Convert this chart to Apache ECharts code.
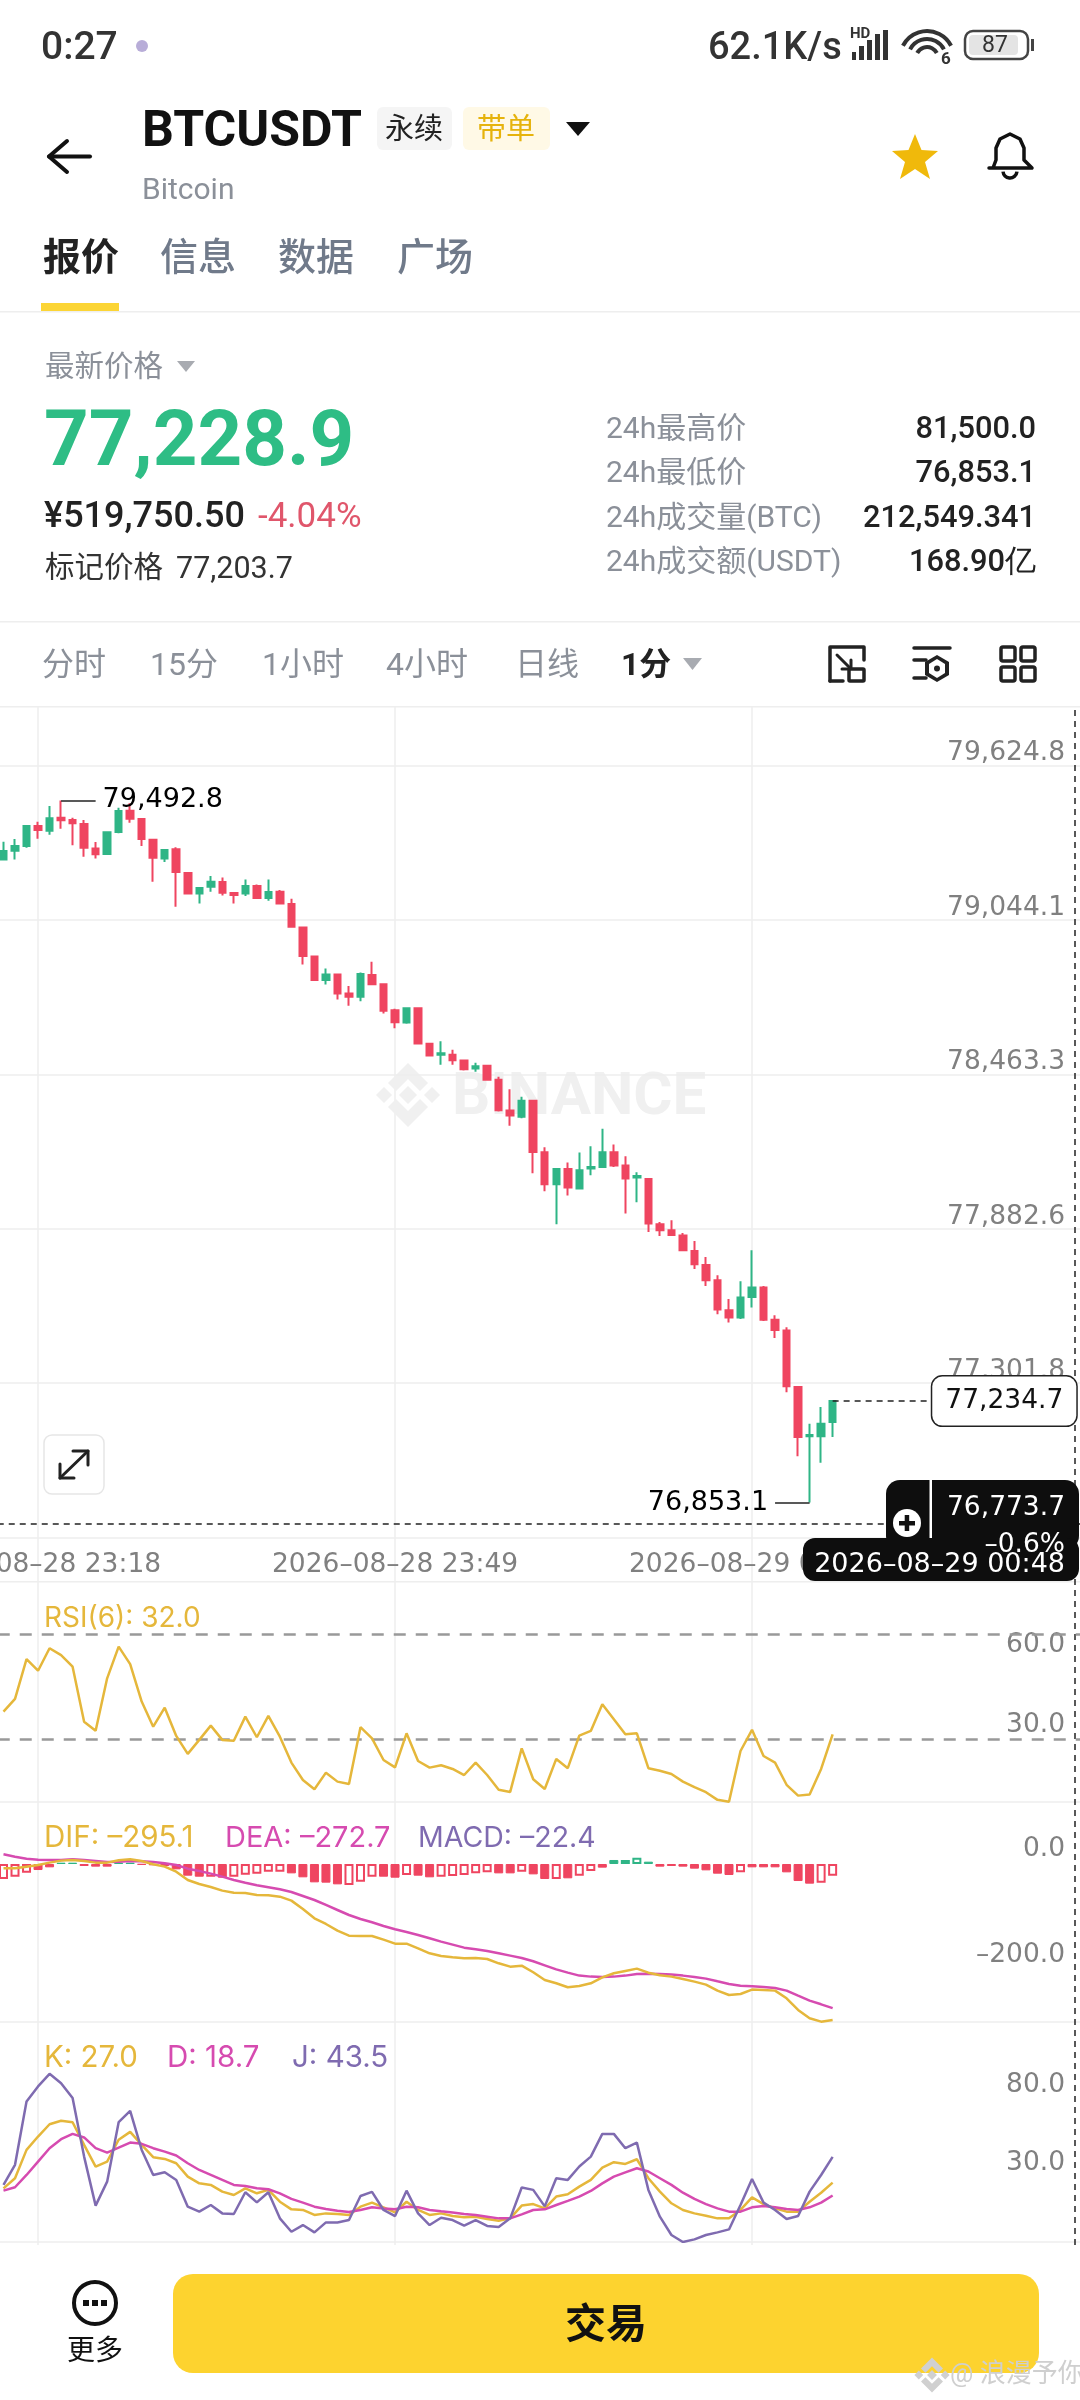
<!DOCTYPE html>
<html><head><meta charset="utf-8">
<style>html,body{margin:0;padding:0;background:#fff}#c{width:1080px;height:2400px}</style>
<script src="https://cdn.jsdelivr.net/npm/echarts@6/dist/echarts.min.js"></script>
</head><body><div id="c"></div>
<script>
// ---------- data ----------
const candles = [ // open, close, low, high
[79271.1,79302.5,79271.1,79337.6],[79303.7,79321.3,79271.1,79347.6],[79321.3,79396.5,79315.0,79396.5],[79396.5,79381.5,79348.9,79412.8],
[79379.0,79425.4,79363.9,79471.7],[79427.9,79417.8,79386.5,79492.8],[79419.1,79406.5,79323.8,79427.9],[79404.0,79315.0,79281.2,79419.1],
[79312.5,79290.0,79274.9,79336.3],[79291.2,79372.7,79291.2,79372.7],[79374.0,79452.9,79368.9,79465.5],[79454.2,79424.1,79409.1,79481.8],
[79422.8,79347.6,79321.3,79422.8],[79345.1,79277.4,79187.1,79345.1],[79274.9,79306.2,79261.1,79308.8],[79308.8,79223.5,79093.1,79316.3],
[79219.7,79143.3,79143.3,79219.7],[79143.3,79163.3,79105.6,79163.3],[79168.3,79187.1,79149.5,79208.4],[79185.9,79145.8,79135.7,79203.4],
[79144.5,79137.0,79105.6,79144.5],[79143.3,79170.8,79133.2,79195.9],[79170.8,79125.7,79125.7,79177.1],[79125.7,79148.3,79115.7,79195.9],
[79149.5,79105.6,79105.6,79155.8],[79103.1,79017.9,79017.9,79123.2],[79015.4,78907.5,78876.2,79015.4],[78906.3,78817.3,78817.3,78906.3],
[78817.3,78838.6,78801.0,78861.1],[78838.6,78767.1,78744.5,78838.6],[78767.1,78754.6,78720.7,78794.7],[78754.5,78839.8,78738.2,78846.0],
[78836.0,78802.1,78802.1,78886.1],[78802.1,78701.8,78691.8,78804.6],[78704.3,78659.2,78636.6,78709.4],[78658.0,78711.9,78652.9,78711.9],
[78711.9,78579.0,78579.0,78711.9],[78577.7,78533.8,78533.8,78577.7],[78536.3,78542.6,78498.7,78587.7],[78536.3,78516.3,78498.7,78555.1],
[78515.0,78482.4,78477.4,78515.0],[78484.9,78493.7,78472.4,78506.2],[78495.0,78442.3,78442.3,78495.0],[78442.3,78328.2,78323.2,78453.6],
[78327.0,78308.2,78269.3,78407.2],[78303.1,78363.3,78298.1,78378.4],[78363.3,78171.5,78091.2,78363.3],[78170.2,78049.9,78023.5,78189.0],
[78049.9,78107.5,77899.4,78107.5],[78107.5,78037.3,78007.2,78131.4],[78033.6,78102.5,78029.8,78169.0],[78108.8,78115.1,78083.7,78192.8],
[78115.1,78170.2,78115.1,78258.0],[78170.2,78120.1,78115.1,78199.1],[78120.1,78071.2,77939.5,78155.2],[78074.9,78081.2,77982.2,78095.0],
[78069.9,77901.9,77870.6,78069.9],[77899.4,77876.9,77855.5,77908.2],[77876.9,77859.3,77859.3,77914.5],[77856.8,77801.6,77799.1,77866.8],
[77799.1,77749.0,77731.4,77836.7],[77746.5,77688.8,77667.5,77776.6],[77688.8,77578.5,77560.9,77707.6],[77575.9,77548.4,77529.6,77618.6],
[77548.4,77623.6,77543.4,77685.0],[77626.1,77661.2,77586.0,77801.6],[77661.2,77540.8,77535.8,77667.5],[77540.8,77502.0,77471.9,77557.1],
[77499.5,77290.1,77267.5,77512.0],[77287.6,77099.5,77026.8,77287.6],[77102.0,77107.0,76853.1,77149.7],[77102.0,77149.7,77003.0,77212.3],
[77155.9,77234.7,77099.5,77234.7]];
const rsi = [40.6,45.4,60.5,56.1,64.6,62.0,57.6,36.8,33.4,53.2,65.2,58.6,44.4,34.9,42.1,31.4,24.6,29.9,35.3,29.9,29.6,38.7,30.9,39.0,31.1,21.3,14.7,11.2,17.5,14.1,13.2,34.7,30.5,22.3,19.5,32.4,21.9,19.4,20.3,18.9,16.6,21.3,16.6,11.0,10.2,26.7,15.0,11.3,22.7,19.2,31.5,33.3,43.4,37.7,32.0,32.4,19.2,18.2,17.0,14.1,12.0,10.1,7.2,6.5,25.7,33.7,23.8,21.3,12.9,8.8,9.2,18.9,32.0];
const dif = [-8.2,-8.2,-5.0,-1.8,2.6,6.4,7.6,5.7,2.6,2.6,7.0,8.9,5.7,-0.6,-5.0,-14.5,-30.2,-37.8,-43.5,-50.4,-54.2,-54.8,-58.6,-59.2,-61.8,-69.3,-85.1,-102.8,-113.5,-126.1,-135.6,-136.2,-136.2,-143.1,-150.7,-150.7,-159.5,-169.0,-174.0,-176.5,-178.4,-177.8,-179.7,-187.9,-194.2,-192.3,-204.9,-219.4,-225.7,-233.3,-230.8,-225.7,-214.4,-206.8,-202.4,-198.0,-205.6,-210.6,-213.1,-217.5,-222.6,-228.3,-239.6,-247.8,-245.9,-237.7,-238.4,-239.6,-254.1,-276.2,-292.0,-298.3,-295.1];
const dea = [18.3,13.9,10.1,8.2,7.6,7.6,8.9,7.6,5.7,3.8,4.5,5.7,5.1,3.8,1.3,-1.8,-8.8,-13.2,-18.2,-23.9,-30.2,-35.3,-40.3,-44.1,-47.9,-52.9,-60.5,-68.1,-77.5,-87.0,-96.5,-104.0,-110.3,-117.3,-123.6,-128.6,-134.3,-140.6,-146.9,-152.6,-158.3,-161.4,-164.6,-169.0,-173.4,-177.8,-184.1,-191.7,-199.3,-205.6,-211.2,-213.1,-213.8,-213.1,-211.2,-208.1,-207.5,-208.1,-209.3,-211.2,-213.8,-216.9,-222.0,-227.0,-230.2,-231.4,-232.7,-234.6,-239.6,-249.1,-258.5,-265.5,-272.7];
const macd = [-28.3,-24.0,-16.4,-11.4,-6.3,2.5,2.5,-3.8,-5.0,-5.0,2.5,2.5,-1.3,-2.5,-3.8,-10.1,-22.1,-24.0,-24.0,-25.9,-24.0,-20.2,-18.3,-14.5,-14.5,-17.7,-25.2,-34.7,-35.3,-38.5,-39.7,-33.4,-24.0,-24.0,-25.9,-20.8,-22.1,-25.2,-24.0,-22.7,-20.8,-17.7,-15.8,-17.7,-17.7,-14.5,-19.6,-28.4,-28.4,-27.1,-22.1,-13.2,-6.9,7.6,7.6,12.0,4.4,-5.0,-3.8,-5.0,-8.8,-12.0,-18.3,-20.8,-15.8,-6.3,-6.3,-6.3,-15.8,-32.2,-37.2,-35.3,-22.4];
const macdHollow = [0,1,2,18,20,21,22,23,24,30,31,32,35,38,39,40,41,42,45,48,50,51,54,55,64,71,72];
const kK = [23.3,29.8,48.0,56.6,64.5,66.7,65.8,51.2,37.3,40.5,54.5,59.6,51.2,43.3,42.2,39.4,30.8,26.5,25.5,21.2,19.0,23.3,20.1,22.3,14.7,9.8,9.4,6.2,7.2,6.8,6.2,11.5,14.1,11.1,7.9,14.7,9.4,6.2,7.2,5.5,4.7,5.1,3.6,2.5,4.0,12.2,13.2,10.4,18.0,19.5,24.4,28.7,36.6,40.1,39.0,42.0,29.8,21.2,13.7,9.4,7.2,5.7,4.0,4.0,9.4,17.5,13.2,10.4,8.3,8.3,14.7,20.5,27.0];
const kD = [21.8,24.0,31.9,40.5,49.1,54.9,58.3,56.0,49.1,46.3,49.5,52.7,51.9,49.1,46.9,44.4,39.4,35.1,31.9,28.7,25.5,24.8,23.3,22.7,20.1,16.5,14.1,11.5,10.0,8.9,8.1,9.4,11.1,10.4,9.8,11.5,11.1,9.4,8.5,7.7,6.8,6.2,5.1,4.0,4.0,6.6,9.4,9.8,12.6,15.2,18.0,21.6,26.5,30.8,33.6,36.2,34.1,29.8,25.5,20.5,16.5,13.2,10.4,8.3,8.3,11.1,12.0,11.1,10.0,9.4,11.1,14.1,18.7];
const kJ = [25.5,38.4,79.1,88.8,96.9,90.9,81.3,43.7,12.2,27.6,65.8,73.1,48.0,31.9,33.6,28.7,11.5,8.3,12.6,7.2,6.8,20.8,14.3,20.8,4.0,-4.6,-0.3,-5.0,1.4,1.4,2.9,18.4,21.0,9.4,5.5,21.8,7.2,-0.3,4.4,2.9,-0.7,2.9,-0.9,-1.6,4.0,23.8,22.3,11.7,29.8,28.7,37.3,43.7,58.3,58.3,49.1,52.7,22.3,5.1,-6.7,-11.2,-9.5,-6.7,-5.0,-3.1,12.6,29.3,14.1,9.4,3.6,5.5,21.2,31.9,43.5];
const priceTicks = [79624.8,79044.1,78463.3,77882.6,77301.8];
const rsiTicks = [60,30];
const rsiBands = [70,30];
const macdTicks = [0,-200];
const kdjTicks = [80,30];
const timeTicks = ['2026-08-28 23:18','2026-08-28 23:49','2026-08-29 00:20'];
const crossTime = '2026-08-29 00:48';
const crossPrice = 76773.7, lastPrice = 77234.7, hiPrice = 79492.8, loPrice = 76853.1;

// category axis: one slot per minute, running on past the last candle
const times = [];
for (let i = 0; i < 95; i++) {
  const m = 23 * 60 + 15 + i, h = Math.floor(m / 60) % 24, mm = m % 60;
  times.push((m < 1440 ? '2026-08-28 ' : '2026-08-29 ') + String(h).padStart(2, '0') + ':' + String(mm).padStart(2, '0'));
}

// ---------- layout ----------
const RED = '#EF4560', GREEN = '#2FB586', YEL = '#E5B73B', PINK = '#D64BB0', PUR = '#7F6BB0';
const GRID = '#EEEEEE', AX = '#808080';
const gl = -2.26, gw = 1094;
const AXF = '"DejaVu Sans"', LEGF = 'Inter', CJK = 'Roboto, "Noto Sans CJK SC"';
const pane = (top, h) => ({left: gl, width: gw, top, height: h, outerBoundsMode:'none', containLabel:false});
const grids = [pane(707, 1538), pane(707, 830.7), pane(1581, 220.7), pane(1801.7, 220), pane(2021.7, 220)];
const wide = s => s.replace(/-/g, '\u2013');

function xAx(i, labels) {
  return {type:'category', gridIndex:i, data:times, boundaryGap:true,
    axisTick:{show:false},
    axisLine:{show:i>0, onZero:false, lineStyle:{color:GRID,width:1.5}},
    splitLine: i===0 ? {show:true, alignWithLabel:true, interval:(n,v)=>timeTicks.includes(v), lineStyle:{color:GRID,width:1.5}} : {show:false},
    axisLabel: labels ? {show:true, interval:(n,v)=>timeTicks.includes(v), formatter:v=>wide(v), color:AX, fontFamily:AXF, fontSize:26.5, margin:14, hideOverlap:false} : {show:false}};
}
function yAx(i, min, max, ticks, fmt, lh) {
  return {type:'value', gridIndex:i, position:'right', min, max, scale:true,
    axisLine:{show:false}, axisTick:{show:false},
    splitLine:{show:false},
    axisLabel:{show:true, inside:true, customValues:ticks, formatter:fmt, color:AX, fontFamily:AXF, fontSize:26.5,
      margin:26.7, verticalAlign:'bottom', lineHeight:lh}};
}
const f1 = v => wide(Number(v).toFixed(1));
const fp = v => Number(v).toLocaleString('en-US',{minimumFractionDigits:1,maximumFractionDigits:1});
const mk = (name, d, g, color) => ({name, type:'line', data:d, xAxisIndex:g, yAxisIndex:g, symbol:'none', smooth:false, z:5,
  lineStyle:{color, width:2.5}, itemStyle:{color}});
const dash = {color:'#222', width:1.5, type:[6,5]};
const lab = {show:true, position:'end', color:'#000', fontFamily:'DejaVu Sans', fontSize:27};

// ---------- chrome helpers ----------
const T = (text,x,y,size,fill,o={}) => ({type:'text', x, y:y+4, z:o.z||50, style:{text, fill, fontSize:size, fontWeight:o.w||400, fontFamily:o.f||CJK, align:o.a||'left', verticalAlign:'middle'}});
const R = (x,y,w,h,fill,o={}) => ({type:'rect', z:o.z||50, shape:{x,y,width:w,height:h,r:o.r||0}, style:{fill, stroke:o.s||null, lineWidth:o.lw||0}});
const L = (pts,stroke,lw,z) => ({type:'polyline', z:z||50, shape:{points:pts}, style:{stroke, lineWidth:lw, fill:null, lineCap:'round', lineJoin:'round'}});
const P = (pts,fill,z) => ({type:'polygon', z:z||50, shape:{points:pts}, style:{fill}});
const C = (cx,cy,r,o={}) => ({type:'circle', z:o.z||50, shape:{cx,cy,r}, style:{fill:o.fill||null, stroke:o.s||null, lineWidth:o.lw||0}});
const A = (cx,cy,r,a0,a1,stroke,lw) => ({type:'arc', z:50, shape:{cx,cy,r,startAngle:a0,endAngle:a1}, style:{stroke,lineWidth:lw,fill:null}});
const GR = '#707A8A', GR2 = '#8B9099';
function bnLogo(cx,cy,s,fill,z){ const q=(pts)=>P(pts.map(p=>[cx+p[0]*s,cy+p[1]*s]),fill,z);
  return [q([[0,-32],[20,-12],[12,-4],[0,-16],[-12,-4],[-20,-12]]),q([[0,32],[20,12],[12,4],[0,16],[-12,4],[-20,12]]),
    q([[0,-9],[9,0],[0,9],[-9,0]]),q([[-24,-8],[-16,0],[-24,8],[-32,0]]),q([[24,-8],[32,0],[24,8],[16,0]])]; }

const chrome = [
  // status bar
  T('0:27',41,45,39,'#333',{f:'Roboto',w:500}), C(142,46,6,{fill:'#B8ADD8'}),
  T('62.1K/s',708,45,38,'#333',{f:'Roboto',w:500}),
  T('HD',850,30,15,'#333',{f:'Roboto',w:700}),
  R(852,52,4,8,'#333'),R(859,46,5,14,'#333'),R(867,40,5,20,'#333'),R(875,34,5,26,'#333'),R(883,30,5,30,'#333'),
  A(927,58,11,-Math.PI*0.85,-Math.PI*0.15,'#333',4),A(927,58,19,-Math.PI*0.85,-Math.PI*0.15,'#333',4),A(927,58,27,-Math.PI*0.85,-Math.PI*0.15,'#333',4),
  T('6',946,56,17,'#333',{f:'Roboto',w:700,a:'center'}),
  R(965,31,63,28,'#fff',{s:'#444',lw:2.5,r:8}), R(969,35,49,20,'#E4E4E4',{r:4}), T('87',995,42,23,'#333',{f:'Roboto',a:'center'}), R(1031,39,3,12,'#444'),
  // title row
  L([[67,141],[49,156.5],[67,172]],'#111',4), L([[49,156.5],[90,156.5]],'#111',4),
  T('BTCUSDT',142,129,50,'#111',{w:700,f:'Roboto'}),
  R(377,107,75,43,'#F5F5F5',{r:6}), T('永续',414,128,29,'#222',{a:'center'}),
  R(463,107,87,43,'#FFF9E6',{r:6}), T('带单',506,128,29,'#E6B30C',{a:'center'}),
  P([[566,122],[590,122],[578,136]],'#111'),
  T('Bitcoin',142,187.5,30,GR2,{f:'Roboto'}),
  P([[915,134],[921.5,150],[938,151],[925,162],[930,179],[915,169],[900,179],[905,162],[892,151],[908.5,150]],'#F0B90B'),
  L([[993,168],[996,160],[996,148],[1000,139],[1010,134],[1020,139],[1024,148],[1024,160],[1032,168],[989,168]],'#111',3.5),
  A(1010,171,7,0.1,Math.PI-0.1,'#111',3.5),
  // tabs
  T('报价',43,256,38,'#222',{w:700}), T('信息',160,256,38,GR,{w:500}), T('数据',278,256,38,GR,{w:500}), T('广场',397,256,38,GR,{w:500}),
  R(41,303,78,8,'#FCD535'), R(0,311,1080,1.5,'#EEE'),
  // price block
  T('最新价格',45,365,29.5,GR2), P([[177,361],[195,361],[186,372]],'#A8ABB1'),
  T('77,228.9',44,441,78,'#2EBD85',{w:700,f:'Roboto'}),
  T('¥519,750.50',44,514,36,'#222',{w:500,f:'Roboto'}), T('-4.04%',258,514,35,'#E0566B',{f:'Roboto'}),
  T('标记价格',45,566,29.5,'#333'), T('77,203.7',176,566,30.5,'#333',{f:'Roboto'}),
  T('24h最高价',606,426,30,GR2), T('81,500.0',1036,426,30.8,'#222',{a:'right',f:'Roboto',w:500}),
  T('24h最低价',606,470,30,GR2), T('76,853.1',1036,470,30.8,'#222',{a:'right',f:'Roboto',w:500}),
  T('24h成交量(BTC)',606,515,30,GR2), T('212,549.341',1036,515,30.8,'#222',{a:'right',f:'Roboto',w:500}),
  T('24h成交额(USDT)',606,559,30,GR2), T('168.90亿',1036,559,30.8,'#222',{a:'right',f:'Roboto',w:500}),
  R(0,621,1080,1.5,'#EEE'),
  // toolbar
  T('分时',42,663,32,GR2), T('15分',150,663,32,GR2), T('1小时',262,663,32,GR2), T('4小时',386,663,32,GR2), T('日线',515,663,32,GR2),
  T('1分',621,663,32,'#222',{w:700}), P([[683,658],[702,658],[692.5,670]],'#A8ABB1'),
  L([[830,681],[830,647],[864,647],[864,660]],'#222',3.5), L([[837,655],[851,669]],'#222',3), L([[851,660],[851,669],[842,669]],'#222',3), L([[830,681],[843,681]],'#222',3.5), R(849,669,15,12,'#fff',{s:'#222',lw:3.5,r:1}),
  L([[914,648],[950,648]],'#222',3.5), L([[914,660],[926,660]],'#222',3.5), L([[914,678],[926,678]],'#222',3.5),
  P([[937,655],[949,662],[949,675],[937,682],[925,675],[925,662]],'#222'), P([[937,659],[945,664],[945,673],[937,678],[929,673],[929,664]],'#fff'), C(937,668.5,3,{fill:'#222'}),
  R(1001,647,14,14,'#fff',{s:'#222',lw:3.5,r:2}),R(1021,647,14,14,'#fff',{s:'#222',lw:3.5,r:2}),R(1001,667,14,14,'#fff',{s:'#222',lw:3.5,r:2}),R(1021,667,14,14,'#fff',{s:'#222',lw:3.5,r:2}),
  R(0,706,1080,1.5,'#EEE'),
  R(0,1581,1080,1.5,GRID,{z:1}),
  // watermark
  ...bnLogo(408,1095,1,'#F0F0F0',1),
  T('BINANCE',452,1095,60,'#F0F0F0',{w:700,f:'Roboto',z:1}),
  // expand button
  R(44,1435,60,59,'#fff',{s:'#E6E6E6',lw:1.5,r:8,z:20}),
  L([[60,1478],[88,1451]],'#222',3,21), L([[73,1451],[88,1451],[88,1465]],'#222',3,21), L([[60,1464],[60,1478],[74,1478]],'#222',3,21),
  // crosshair read-out
  R(886,1480,193,70,'#0E0E0E',{r:14,z:60}), R(803,1538,276,43,'#0E0E0E',{r:12,z:60}),
  R(929.5,1480,2.5,58,'#fff',{z:61}), C(907,1523,14,{fill:'#fff',z:61}), R(899,1521,16,4.5,'#111',{z:62}), R(904.7,1515,4.5,16,'#111',{z:62}),
  T('76,773.7',1065,1504.5,26.5,'#fff',{a:'right',f:AXF,z:62}), T('\u20130.6%',1065,1541,26.5,'#fff',{a:'right',f:AXF,z:62}),
  T(wide(crossTime),1065,1561,27,'#fff',{a:'right',f:AXF,z:63}),
  // legends
  T('RSI(6): 32.0',44,1614.5,28,YEL,{f:LEGF,z:30}),
  T('DIF: \u2013295.1',44,1834,29.5,YEL,{f:LEGF,z:30}), T('DEA: \u2013272.7',225,1834,29,PINK,{f:LEGF,z:30}), T('MACD: \u201322.4',418,1834,28.5,PUR,{f:LEGF,z:30}),
  T('K: 27.0',44,2054,29.5,YEL,{f:LEGF,z:30}), T('D: 18.7',167,2054,29.5,PINK,{f:LEGF,z:30}), T('J: 43.5',292,2054,29.5,PUR,{f:LEGF,z:30}),
  // bottom bar
  C(95,2303,21,{s:'#111',lw:4}), R(83,2300,6,6,'#111'), R(92,2300,6,6,'#111'), R(101,2300,6,6,'#111'),
  T('更多',95,2349,28,'#111',{a:'center'}),
  R(173,2274,866,99,'#FDD32F',{r:20}), T('交易',606,2324,41,'#111',{a:'center',w:700}),
  ...bnLogo(932,2375,0.55,'#D0D0D0',55),
  T('@ 浪漫予你',950,2371,26,'#CFCFCF',{z:55})
];

// ---------- chart ----------
const chart = echarts.init(document.getElementById('c'), null, {renderer:'canvas', width:1080, height:2400});
chart.setOption({
  animation:false, backgroundColor:'#fff', tooltip:{show:false}, legend:{show:false},
  grid:grids,
  xAxis:[xAx(0,false), xAx(1,true), xAx(2,false), xAx(3,false), xAx(4,false)],
  yAxis:[
    {type:'value',gridIndex:0,min:0,max:1,show:false},
    yAx(1,76721,79844,priceTicks,fp,24),
    yAx(2,6.5,90.06,rsiTicks,f1,30),
    yAx(3,-298.4,117.9,macdTicks,f1,30),
    yAx(4,-11,130.4,kdjTicks,f1,30)
  ],
  graphic:{elements:chrome},
  series:[
    {type:'line',data:[],xAxisIndex:0,yAxisIndex:0,symbol:'none',z:40,
      markLine:{silent:true,symbol:'none',animation:false,label:{show:false},lineStyle:dash,data:[{xAxis:crossTime}]}},
    {type:'line',data:[],xAxisIndex:1,yAxisIndex:1,symbol:'none',z:1,
      markLine:{silent:true,symbol:'none',animation:false,label:{show:false},z:1,
        lineStyle:{color:GRID,width:1.5,type:'solid'},data:priceTicks.map(v=>({yAxis:v}))}},
    {name:'K',type:'candlestick',data:candles,xAxisIndex:1,yAxisIndex:1,barWidth:7,z:5,
      itemStyle:{color:GREEN,color0:RED,borderColor:GREEN,borderColor0:RED,borderWidth:2},
      markLine:{silent:true,symbol:'none',animation:false,z:30,
        data:[
          {yAxis:crossPrice,lineStyle:dash,label:{show:false}},
          [{xAxis:times[72],yAxis:lastPrice,lineStyle:dash,
            label:{show:true,position:'end',distance:-4,formatter:p=>fp(lastPrice),color:'#111',fontFamily:AXF,fontSize:26.5,backgroundColor:'#fff',borderColor:'#222',borderWidth:1.5,borderRadius:10,padding:[16,13,6,13]}},
           {xAxis:times[81],yAxis:lastPrice}],
          [{xAxis:times[5],yAxis:hiPrice,lineStyle:{color:'#222',width:1.5,type:'solid'},label:{...lab,distance:7,padding:[12,0,0,0],formatter:p=>fp(hiPrice)}},{xAxis:times[8],yAxis:hiPrice}],
          [{xAxis:times[70],yAxis:loPrice,lineStyle:{color:'#222',width:1.5,type:'solid'},label:{...lab,distance:7,padding:[14,0,0,0],formatter:p=>fp(loPrice)}},{xAxis:times[67],yAxis:loPrice}]
        ]}},
    Object.assign(mk('RSI',rsi,2,YEL),{markLine:{silent:true,symbol:'none',animation:false,label:{show:false},
      lineStyle:{color:'#999',width:2.5,type:[12,10]},data:rsiBands.map(v=>({yAxis:v}))}}),
    {name:'MACD',type:'bar',xAxisIndex:3,yAxisIndex:3,barWidth:9,z:3,
      data:macd.map((v,i)=>{const c=v>=0?GREEN:RED,h=macdHollow.includes(i);
        return {value:v,itemStyle:{color:h?'#fff':c,borderColor:c,borderWidth:h?2:1}};})},
    mk('DEA',dea,3,PINK), mk('DIF',dif,3,YEL),
    mk('K',kK,4,YEL), mk('D',kD,4,PINK), mk('J',kJ,4,PUR)
  ]
});
</script></body></html>
